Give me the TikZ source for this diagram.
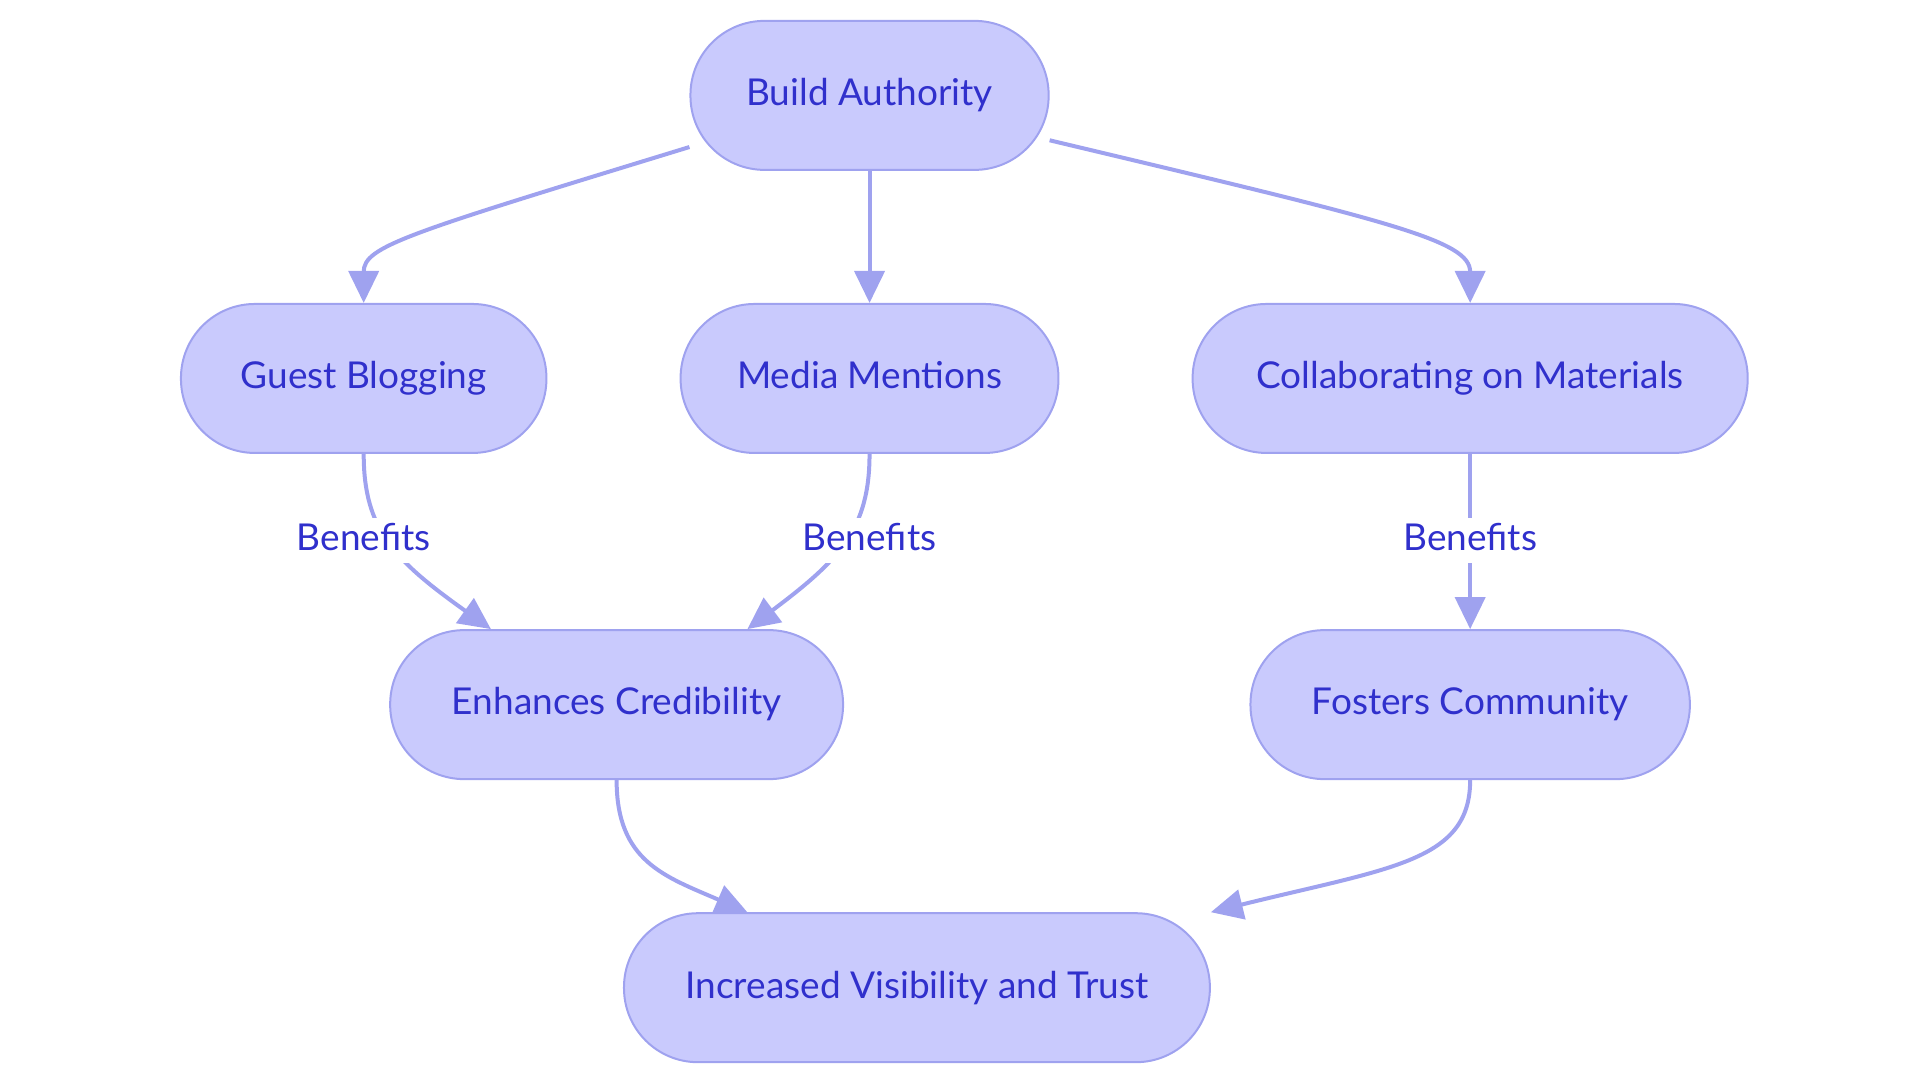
\documentclass[tikz,border=0pt]{standalone}
\usepackage{fontspec}
\setmainfont{Lato}
\usetikzlibrary{arrows.meta}
\definecolor{nodefill}{HTML}{C9CAFD}
\definecolor{nodeline}{HTML}{9FA2EF}
\definecolor{txt}{HTML}{3030CC}
\begin{document}
\begin{tikzpicture}[x=1.2308pt,y=-1.2308pt,
  box/.style={draw=nodeline, line width=2pt, fill=nodefill, rounded corners=74pt,
    minimum height=149pt, inner sep=0pt, text=txt, text height=30pt, text depth=9.4pt,
    font=\fontsize{37}{44}\selectfont},
  edge/.style={draw=nodeline, line width=4pt, -{Triangle[length=32pt,width=30pt]}},
  lbl/.style={fill=white, text=txt, inner sep=3pt, text height=30pt, text depth=9.4pt,
    font=\fontsize{37}{44}\selectfont}]
\useasboundingbox (0,0) rectangle (1560,880);
\node[box, minimum width=358.2pt] (ba) at (706.5,77.5) {Build Authority};
\node[box, minimum width=365.5pt] (gb) at (295.5,307.5) {Guest Blogging};
\node[box, minimum width=377.9pt] (mm) at (706.5,307.5) {Media Mentions};
\node[box, minimum width=555.1pt] (cm) at (1194.5,307.5) {Collaborating on Materials};
\node[box, minimum width=452.9pt] (ec) at (501,572.5) {Enhances Credibility};
\node[box, minimum width=439.4pt] (fc) at (1194.5,572.5) {Fosters Community};
\node[box, minimum width=585.9pt] (iv) at (745,802.5) {Increased Visibility and Trust};
% edges
\draw[edge] (ba.196) .. controls (330,190) and (295.5,200) .. (gb.north);
\draw[edge] (ba.south) -- (mm.north);
\draw[edge] (ba.346.7) .. controls (1130,180) and (1194.5,195) .. (cm.north);
\draw[edge] (gb.south) .. controls (295.5,430) and (320,455) .. (ec.149)
  node[lbl] (l1) at (295.5,439) {Benefits};
\draw[edge] (mm.south) .. controls (706.5,430) and (682,455) .. (ec.30)
  node[lbl] (l2) at (706.5,439) {Benefits};
\draw[edge] (cm.south) -- (fc.north)
  node[lbl] (l3) at (1194.5,439) {Benefits};
\draw[edge] (ec.south) .. controls (501,700) and (540,712) .. (iv.156);
\draw[edge] (fc.south) .. controls (1194.5,700) and (1130,705) .. (iv.north east);
\end{tikzpicture}
\end{document}
